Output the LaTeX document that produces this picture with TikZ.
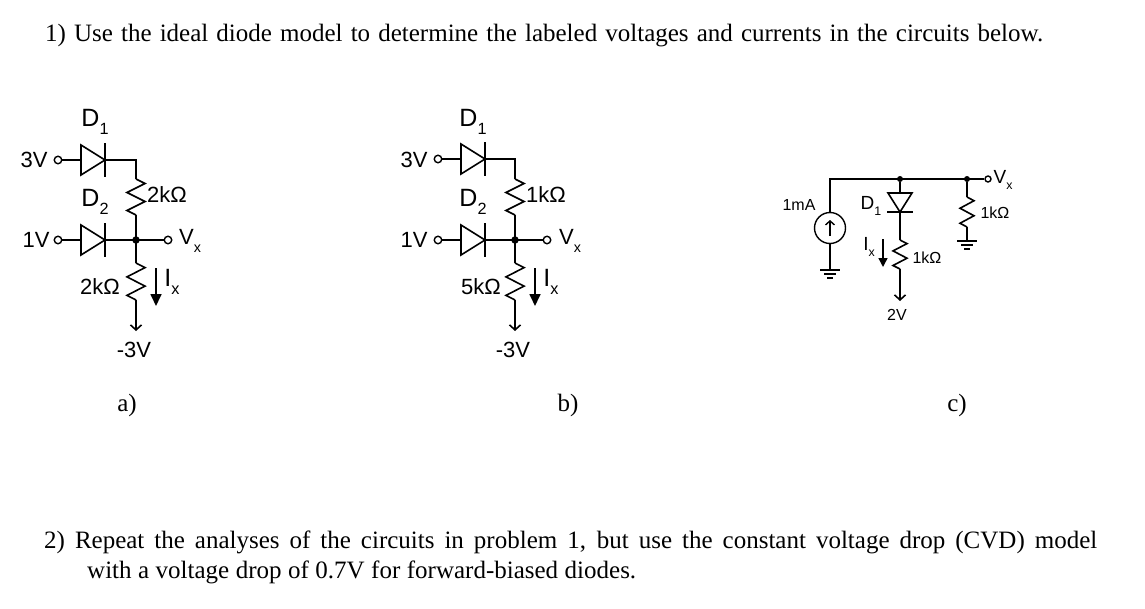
\documentclass[tikz,border=0pt]{standalone}
\usepackage{fontspec}
\setmainfont{Liberation Serif}
\newfontfamily\lab{Liberation Sans}
\usetikzlibrary{arrows.meta}
\tikzset{
  wire/.style={line width=1.6pt,line join=miter},
  term/.style={circle,draw,line width=1.4pt,fill=white,inner sep=0pt,minimum size=7.5pt},
  dot/.style={circle,fill=black,inner sep=0pt,minimum size=7.5pt},
  lbl/.style={font=\lab\fontsize{22}{22}\selectfont,inner sep=0pt},
  lblb/.style={font=\lab\fontsize{25}{25}\selectfont,inner sep=0pt},
  lblv/.style={font=\lab\fontsize{22}{22}\selectfont,inner sep=0pt},
  lblm/.style={font=\lab\fontsize{19}{19}\selectfont,inner sep=0pt},
  lbls/.style={font=\lab\fontsize{16}{16}\selectfont,inner sep=0pt},
  para/.style={font=\fontsize{25}{27}\selectfont,inner sep=0pt,anchor=base west},
  capt/.style={font=\fontsize{25}{27}\selectfont,inner sep=0pt},
  supply/.style={-{Straight Barb[length=5pt,width=11pt,line width=1.6pt]},wire},
  cur/.style={-{Triangle[length=12pt,width=11pt]},line width=1.7pt}
}
\newcommand{\low}[1]{\raisebox{-0.65ex}{\scalebox{0.65}{#1}}}
\newcommand{\vres}[3]{\draw[wire] (#1) -- ++(9,#3*0.125) -- ++(-18,#3*0.25) -- ++(18,#3*0.25) -- ++(-18,#3*0.25) -- (#2);}
\newcommand{\hdiode}[1]{\draw[wire,fill=white] (#1) ++(-24,-15) -- ++(0,30) -- (#1) -- cycle;
  \draw[wire] (#1) ++(0,-17) -- ++(0,34);}
\begin{document}
\begin{tikzpicture}[x=1pt,y=-1pt]
\useasboundingbox (0,0) rectangle (1145,608);
\fill[white] (0,0) rectangle (1145,608);
\node[para] (t1) at (45,41) {\makebox[998pt][s]{1) Use the ideal diode model to determine the labeled voltages and currents in the circuits below.}};
\node[para] (t2a) at (44,548) {\makebox[1053pt][s]{2) Repeat the analyses of the circuits in problem 1, but use the constant voltage drop (CVD) model}};
\node[para] (t2b) at (87,578) {\makebox[549pt][s]{with a voltage drop of 0.7V for forward-biased diodes.}};
\node[capt] (ca) at (127,405) {a)};
\node[capt] (cb) at (568,405) {b)};
\node[capt] (cc) at (957,405) {c)};

% circuit a
\coordinate (aD1) at (105,160); \coordinate (aD2) at (105,240);
\coordinate (aC) at (136,160); \coordinate (aR1t) at (136,179); \coordinate (aR1b) at (136,215);
\coordinate (aR2t) at (136,263); \coordinate (aR2b) at (136,300); \coordinate (aS) at (136,331);
\node[term] (aT1) at (58,160) {}; \node[term] (aT2) at (58,240) {}; \node[term] (aTx) at (168,240) {};
\draw[wire] (aT1) -- (aD1) -- (aC) -- (aR1t);
\vres{aR1t}{aR1b}{36}
\draw[wire] (aT2) -- (aD2) -- (aTx);
\draw[wire] (aR1b) -- (aR2t);
\vres{aR2t}{aR2b}{37}
\draw[supply] (aR2b) -- (aS);
\hdiode{aD1} \hdiode{aD2}
\node[dot] (aJ) at (136,240) {};
\node[lbl] (al1) at (34,160) {3V}; \node[lbl] (al2) at (36,240) {1V};
\node[lblb] (al3) at (95,122) {D\low{1}}; \node[lblb] (al4) at (95,202) {D\low{2}};
\node[lbl] (al5) at (167,195) {2kΩ}; \node[lbl] (al6) at (100,287) {2kΩ};
\node[lblv] (al7) at (190,241) {V\low{x}}; \node[lblb] (al8) at (172,282) {I\low{x}};
\node[lbl] (al9) at (134,350) {-3V};
\coordinate (aI1) at (156,268); \coordinate (aI2) at (156,306);
\draw[cur] (aI1) -- (aI2);

% circuit b
\coordinate (bD1) at (485,159); \coordinate (bD2) at (485,240);
\coordinate (bC) at (515,159); \coordinate (bR1t) at (515,179); \coordinate (bR1b) at (515,215);
\coordinate (bR2t) at (515,263); \coordinate (bR2b) at (515,300); \coordinate (bS) at (515,331);
\node[term] (bT1) at (438,159) {}; \node[term] (bT2) at (438,240) {}; \node[term] (bTx) at (547,240) {};
\draw[wire] (bT1) -- (bD1) -- (bC) -- (bR1t);
\vres{bR1t}{bR1b}{36}
\draw[wire] (bT2) -- (bD2) -- (bTx);
\draw[wire] (bR1b) -- (bR2t);
\vres{bR2t}{bR2b}{37}
\draw[supply] (bR2b) -- (bS);
\hdiode{bD1} \hdiode{bD2}
\node[dot] (bJ) at (515,240) {};
\node[lbl] (bl1) at (414,160) {3V}; \node[lbl] (bl2) at (414,240) {1V};
\node[lblb] (bl3) at (473,122) {D\low{1}}; \node[lblb] (bl4) at (473,202) {D\low{2}};
\node[lbl] (bl5) at (546,195) {1kΩ}; \node[lbl] (bl6) at (481,287) {5kΩ};
\node[lblv] (bl7) at (570,241) {V\low{x}}; \node[lblb] (bl8) at (551,282) {I\low{x}};
\node[lbl] (bl9) at (513,350) {-3V};
\coordinate (bI1) at (535,268); \coordinate (bI2) at (535,306);
\draw[cur] (bI1) -- (bI2);

% circuit c
\coordinate (cL) at (830,179); \coordinate (cDa) at (900,193); \coordinate (cDk) at (900,212);
\coordinate (cR1t) at (900,240); \coordinate (cR1b) at (900,269); \coordinate (cS) at (900,301);
\coordinate (cR2t) at (967,197); \coordinate (cR2b) at (967,227); \coordinate (cG2) at (967,241);
\coordinate (cG1) at (830,270);
\node[term,minimum size=31pt] (cSrc) at (830,228) {};
\node[term,minimum size=6pt] (cTx) at (988,179) {};
\node[dot,minimum size=6pt] (cJ1) at (900,179) {};
\node[dot,minimum size=6pt] (cJ2) at (967,179) {};
\draw[wire] (cSrc) -- (cL) -- (cTx);
\draw[wire] (cSrc) -- (cG1);
\draw[wire] (cJ1) -- (cDa);
\draw[wire] (cDa) ++(-12,0) -- ++(24,0) -- (cDk) -- cycle;
\draw[wire] (cDk) ++(-13,0) -- ++(26,0);
\draw[wire] (cDk) -- (cR1t);
\draw[wire] (cR1t) -- ++(7,3.6) -- ++(-14,7.3) -- ++(14,7.3) -- ++(-14,7.3) -- (cR1b);
\draw[supply] (cR1b) -- (cS);
\draw[wire] (cJ2) -- (cR2t);
\draw[wire] (cR2t) -- ++(7,3.75) -- ++(-14,7.5) -- ++(14,7.5) -- ++(-14,7.5) -- (cR2b);
\draw[wire] (cR2b) -- (cG2);
\draw[wire] (cG1) ++(-10,0) -- ++(20,0) (cG1) ++(-6,4) -- ++(12,0) (cG1) ++(-3,8) -- ++(6,0);
\draw[wire] (cG2) ++(-10,0) -- ++(20,0) (cG2) ++(-6,4) -- ++(12,0) (cG2) ++(-3,8) -- ++(6,0);
\coordinate (cA1) at (830,236); \coordinate (cA2) at (830,220);
\draw[wire,-{Straight Barb[length=4pt,width=9pt,line width=1.4pt]}] (cA1) -- (cA2);
\coordinate (cI1) at (883,239); \coordinate (cI2) at (883,267);
\draw[line width=1.5pt,-{Triangle[length=9pt,width=9pt]}] (cI1) -- (cI2);
\node[lbls] (cl1) at (799,205) {1mA};
\node[lblm] (cl2) at (871,206) {D\low{1}};
\node[lblm] (cl3) at (869,247) {I\low{x}};
\node[lbls] (cl4) at (927,258) {1kΩ};
\node[lbls] (cl5) at (995,213) {1kΩ};
\node[lbls] (cl6) at (897,315) {2V};
\node[lblm] (cl7) at (1003,180) {V\low{x}};
\end{tikzpicture}
\end{document}
